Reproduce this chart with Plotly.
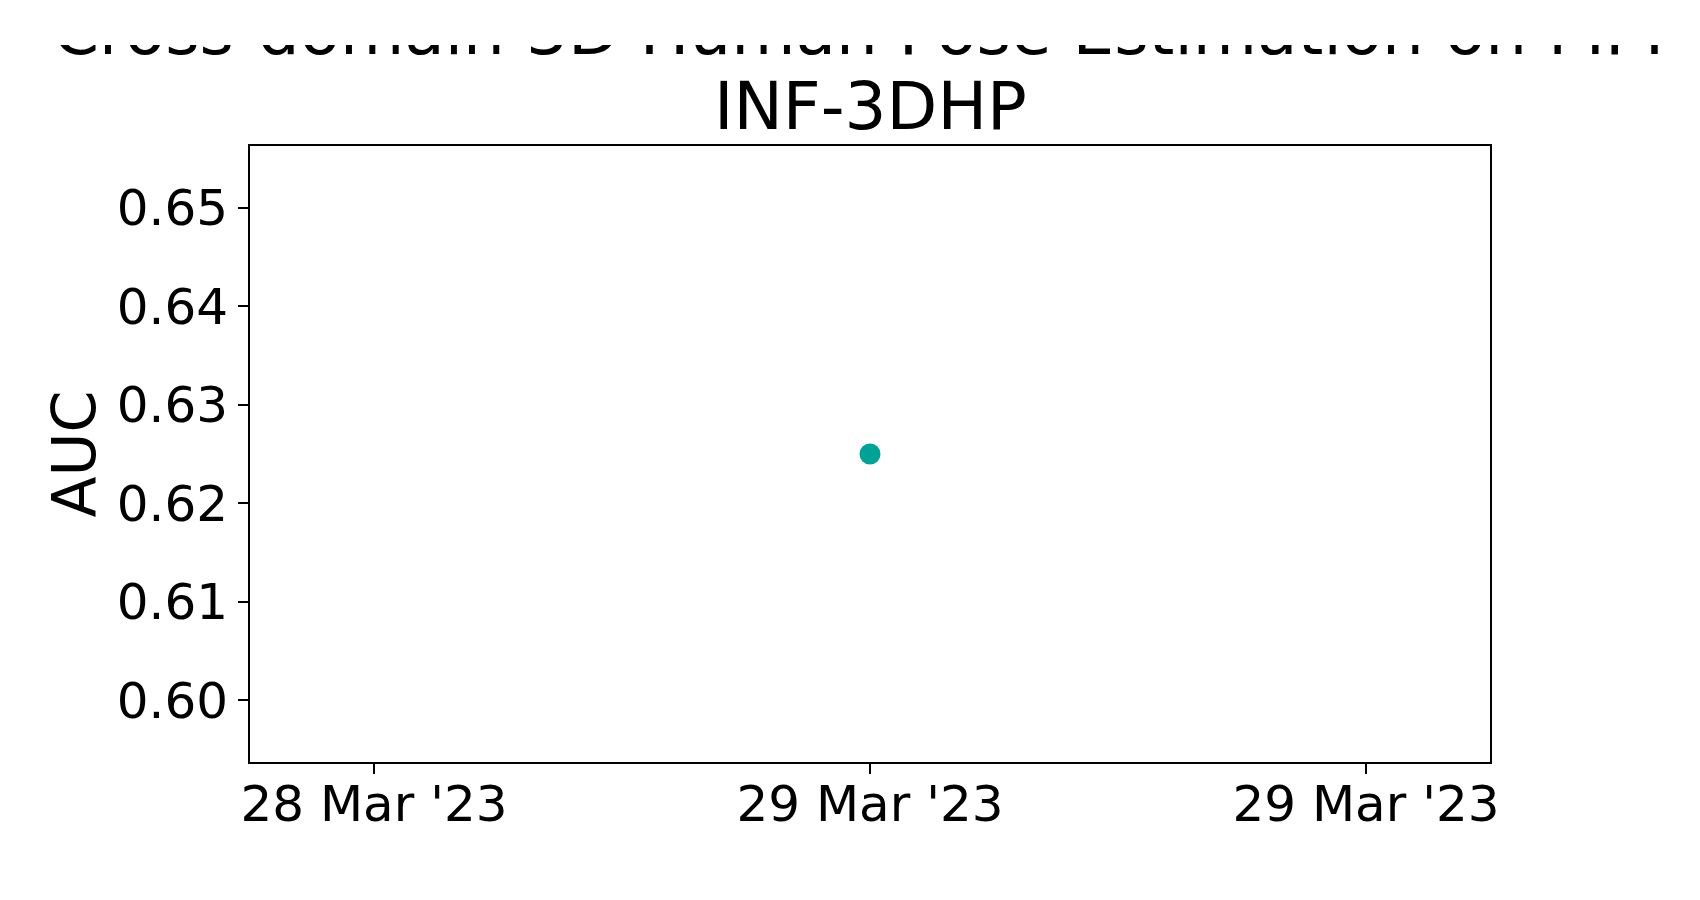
import plotly.graph_objects as go

# data
dates = ["2023-03-29"]
auc = [0.625]

title_lines = ["Cross-domain 3D Human Pose Estimation on MPI-", "INF-3DHP"]
y_ticks = [0.60, 0.61, 0.62, 0.63, 0.64, 0.65]

fig = go.Figure()
fig.add_trace(go.Scatter(
    x=dates, y=auc, mode="markers",
    marker=dict(color="rgb(0,162,150)", size=21),
    showlegend=False,
))

axis_style = dict(
    showline=True, mirror=True, linecolor="black", linewidth=2,
    ticks="outside", ticklen=10, tickwidth=2, tickcolor="black",
    showgrid=False, zeroline=False,
)

# title split over two lines; the first one runs off the top of the page
title_font = dict(family="DejaVu Sans", size=66, color="black")
annotations = [
    dict(text=title_lines[0], xref="paper", yref="paper", x=0.5, y=1,
         xanchor="center", yanchor="bottom", yshift=75, showarrow=False,
         borderpad=0, font=title_font),
    # white band hiding the upper half of the first title line
    dict(text=" ", xref="paper", yref="paper", x=0.5, y=1,
         xanchor="center", yanchor="bottom", yshift=101, showarrow=False,
         width=1800, height=200, borderpad=0, borderwidth=0,
         bgcolor="white"),
    dict(text=title_lines[1], xref="paper", yref="paper", x=0.5, y=1,
         xanchor="center", yanchor="bottom", yshift=0, showarrow=False,
         borderpad=0, font=title_font),
]

fig.update_layout(
    width=1684, height=884,
    margin=dict(l=242, r=202, t=138, b=130),
    plot_bgcolor="white", paper_bgcolor="white",
    font=dict(family="DejaVu Sans", color="black", size=50),
    annotations=annotations,
    xaxis=dict(
        type="date", range=["2023-03-28 09:00", "2023-03-29 15:00"],
        tick0="2023-03-28 12:00", dtick=43200000, tickformat="%d %b '%y",
        ticklabelstandoff=-13,
        **axis_style,
    ),
    yaxis=dict(
        range=[0.59375, 0.65625], tickvals=y_ticks, tickformat=".2f",
        title=dict(text="AUC", font=dict(size=60), standoff=2),
        **axis_style,
    ),
)

fig.write_html("out.html")
